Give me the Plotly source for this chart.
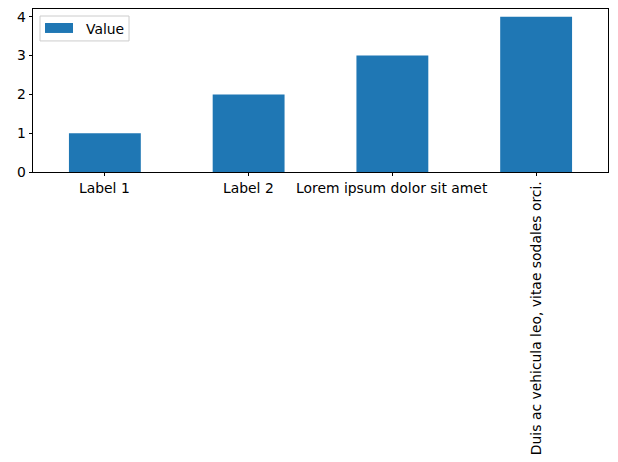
import plotly.graph_objects as go

categories = ["Label 1", "Label 2", "Lorem ipsum dolor sit amet",
              "Duis ac vehicula leo, vitae sodales orci."]
values = [1, 2, 3, 4]
label_angles = [0, 0, 0, -90]
series_name = "Value"

FONT = "DejaVu Sans"
FS = 13.9
BLUE = "#1f77b4"

fig = go.Figure()
fig.add_trace(go.Bar(x=categories, y=values, name=series_name,
                     marker=dict(color=BLUE, line=dict(width=0)),
                     width=0.5, showlegend=False))

annotations = []
for cat, ang in zip(categories, label_angles):
    annotations.append(dict(x=cat, y=0, xref="x", yref="paper", text=cat,
                            showarrow=False, textangle=ang, xanchor="center",
                            yanchor="top", yshift=-6 if ang == 0 else -7,
                            font=dict(family=FONT, size=FS, color="black")))
# legend (matplotlib style: wide patch + label in a light frame)
annotations.append(dict(x=0.0887, y=0.880, xref="paper", yref="paper",
                        text=series_name, showarrow=False, xanchor="left",
                        yanchor="middle", font=dict(family=FONT, size=FS, color="black")))

shapes = [
    dict(type="rect", xref="paper", yref="paper", x0=0.0122, x1=0.167,
         y0=0.804, y1=0.957, line=dict(color="#cccccc", width=1),
         fillcolor="rgba(255,255,255,0.8)", layer="above"),
    dict(type="rect", xref="paper", yref="paper", x0=0.0209, x1=0.0696,
         y0=0.853, y1=0.914, line=dict(width=0), fillcolor=BLUE, layer="above"),
]

fig.update_layout(
    width=618, height=462,
    margin=dict(l=33, r=10, t=9, b=290),
    paper_bgcolor="white", plot_bgcolor="white",
    font=dict(family=FONT, size=FS, color="black"),
    showlegend=False,
    annotations=annotations,
    shapes=shapes,
)
fig.update_xaxes(type="category", range=[-0.5, 3.5], showticklabels=False,
                 ticks="outside", ticklen=3.5, tickwidth=0.8, tickcolor="black",
                 showline=True, linecolor="black", linewidth=0.8, mirror=True,
                 showgrid=False, zeroline=False)
fig.update_yaxes(range=[0, 4.2], tickvals=[0, 1, 2, 3, 4],
                 ticks="outside", ticklen=3.5, tickwidth=0.8, tickcolor="black",
                 showline=True, linecolor="black", linewidth=0.8, mirror=True,
                 showgrid=False, zeroline=False,
                 tickfont=dict(family=FONT, size=FS, color="black"))

fig.write_html("out.html", config={"displayModeBar": False},
               post_script="document.body.style.margin='0';")
